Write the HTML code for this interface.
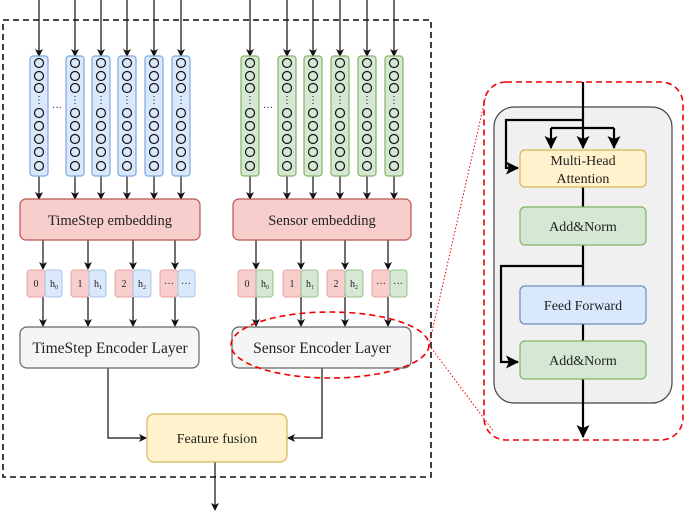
<!DOCTYPE html>
<html><head><meta charset="utf-8"><style>body{margin:0;background:#fff}svg{display:block}text{font-family:"Liberation Serif",serif;fill:#222}</style></head><body>
<svg width="685" height="513" viewBox="0 0 685 513" xmlns="http://www.w3.org/2000/svg">
<defs>
<marker id="a" markerWidth="8" markerHeight="8" refX="7" refY="4" orient="auto" markerUnits="userSpaceOnUse"><path d="M0,0 L8,4 L0,8 L2,4 Z" fill="#111"/></marker>
<marker id="b" markerWidth="13" markerHeight="13" refX="12" refY="6.5" orient="auto" markerUnits="userSpaceOnUse"><path d="M0,0 L13,6.5 L0,13 L3,6.5 Z" fill="#000"/></marker>
<g id="colc" fill="none" stroke="#111" stroke-width="1.2">
<circle cx="0" cy="63" r="4.5"/><circle cx="0" cy="76" r="4.5"/><circle cx="0" cy="88" r="4.5"/>
<circle cx="0" cy="113" r="4.5"/><circle cx="0" cy="126" r="4.5"/><circle cx="0" cy="139" r="4.5"/><circle cx="0" cy="152" r="4.5"/><circle cx="0" cy="166" r="4.5"/>
<path d="M0,96 V106" stroke-dasharray="1 2.5" stroke-width="1"/>
</g>
</defs>
<rect x="3" y="20" width="428" height="457" fill="none" stroke="#111" stroke-width="1.6" stroke-dasharray="6 4"/>
<g stroke="#111" stroke-width="1.2" marker-end="url(#a)">
<path d="M39,0V56"/><path d="M75,0V56"/><path d="M101,0V56"/><path d="M127,0V56"/><path d="M154,0V56"/><path d="M181,0V56"/>
<path d="M250,0V56"/><path d="M287,0V56"/><path d="M313,0V56"/><path d="M340,0V56"/><path d="M367,0V56"/><path d="M394,0V56"/>
<path d="M39,176V199"/><path d="M75,176V199"/><path d="M101,176V199"/><path d="M127,176V199"/><path d="M154,176V199"/><path d="M181,176V199"/>
<path d="M250,176V199"/><path d="M287,176V199"/><path d="M313,176V199"/><path d="M340,176V199"/><path d="M367,176V199"/><path d="M394,176V199"/>
<path d="M43,240V269"/><path d="M88,240V269"/><path d="M133,240V269"/><path d="M175,240V269"/>
<path d="M256,240V269"/><path d="M301,240V269"/><path d="M345,240V269"/><path d="M388,240V269"/>
<path d="M43,297V326"/><path d="M88,297V326"/><path d="M133,297V326"/><path d="M175,297V326"/>
<path d="M256,297V326"/><path d="M301,297V326"/><path d="M345,297V326"/><path d="M388,297V326"/>
<path d="M108,368V438H146" fill="none"/><path d="M322,368V438H288" fill="none"/>
<path d="M215,462V510"/>
</g>
<g fill="#dae8fc" stroke="#7ea6e0" stroke-width="1.2">
<rect x="30" y="56" width="18" height="120" rx="3"/><rect x="66" y="56" width="18" height="120" rx="3"/><rect x="92" y="56" width="18" height="120" rx="3"/><rect x="118" y="56" width="18" height="120" rx="3"/><rect x="145" y="56" width="18" height="120" rx="3"/><rect x="172" y="56" width="18" height="120" rx="3"/>
</g>
<g fill="#d5e8d4" stroke="#82b366" stroke-width="1.2">
<rect x="241" y="56" width="18" height="120" rx="3"/><rect x="278" y="56" width="18" height="120" rx="3"/><rect x="304" y="56" width="18" height="120" rx="3"/><rect x="331" y="56" width="18" height="120" rx="3"/><rect x="358" y="56" width="18" height="120" rx="3"/><rect x="385" y="56" width="18" height="120" rx="3"/>
</g>
<use href="#colc" x="39"/><use href="#colc" x="75"/><use href="#colc" x="101"/><use href="#colc" x="127"/><use href="#colc" x="154"/><use href="#colc" x="181"/>
<use href="#colc" x="250"/><use href="#colc" x="287"/><use href="#colc" x="313"/><use href="#colc" x="340"/><use href="#colc" x="367"/><use href="#colc" x="394"/>
<text x="57" y="111" font-size="10" text-anchor="middle">···</text>
<text x="268" y="111" font-size="10" text-anchor="middle">···</text>
<rect x="20" y="199" width="180" height="41" rx="6" fill="#f8cecc" stroke="#b85450" stroke-width="1.2"/>
<text x="110" y="225" font-size="14.5" text-anchor="middle">TimeStep embedding</text>
<rect x="233" y="199" width="178" height="41" rx="6" fill="#f8cecc" stroke="#b85450" stroke-width="1.2"/>
<text x="322" y="225" font-size="14.5" text-anchor="middle">Sensor embedding</text>
<g stroke-width="1">
<g stroke="#e8a0a0" fill="#f8cecc"><rect x="27" y="270" width="18" height="27" rx="3"/><rect x="71" y="270" width="18" height="27" rx="3"/><rect x="115" y="270" width="18" height="27" rx="3"/><rect x="160" y="270" width="18" height="27" rx="3"/>
<rect x="238" y="270" width="18" height="27" rx="3"/><rect x="283" y="270" width="18" height="27" rx="3"/><rect x="327" y="270" width="18" height="27" rx="3"/><rect x="372" y="270" width="18" height="27" rx="3"/></g>
<g stroke="#a9c4eb" fill="#dae8fc"><rect x="45" y="270" width="17" height="27" rx="3"/><rect x="89" y="270" width="17" height="27" rx="3"/><rect x="133" y="270" width="18" height="27" rx="3"/><rect x="178" y="270" width="17" height="27" rx="3"/></g>
<g stroke="#97c086" fill="#d5e8d4"><rect x="256" y="270" width="17" height="27" rx="3"/><rect x="301" y="270" width="17" height="27" rx="3"/><rect x="345" y="270" width="18" height="27" rx="3"/><rect x="390" y="270" width="17" height="27" rx="3"/></g>
</g>
<g font-size="10" text-anchor="middle">
<text x="36" y="287">0</text><text x="80" y="287">1</text><text x="124" y="287">2</text><text x="169" y="287">···</text>
<text x="54" y="287">h<tspan font-size="6" dy="2">0</tspan></text><text x="98" y="287">h<tspan font-size="6" dy="2">1</tspan></text><text x="142" y="287">h<tspan font-size="6" dy="2">2</tspan></text><text x="186" y="287">···</text>
<text x="247" y="287">0</text><text x="292" y="287">1</text><text x="336" y="287">2</text><text x="381" y="287">···</text>
<text x="265" y="287">h<tspan font-size="6" dy="2">0</tspan></text><text x="310" y="287">h<tspan font-size="6" dy="2">1</tspan></text><text x="354" y="287">h<tspan font-size="6" dy="2">2</tspan></text><text x="398" y="287">···</text>
</g>
<rect x="20" y="327" width="179" height="41" rx="7" fill="#f5f5f5" stroke="#666" stroke-width="1.2"/>
<text x="110" y="353" font-size="15.5" text-anchor="middle">TimeStep Encoder Layer</text>
<rect x="232" y="327" width="179" height="41" rx="7" fill="#f5f5f5" stroke="#666" stroke-width="1.2"/>
<text x="322" y="353" font-size="15.5" text-anchor="middle">Sensor Encoder Layer</text>
<ellipse cx="330" cy="345" rx="99" ry="33" fill="none" stroke="#e00" stroke-width="1.6" stroke-dasharray="6 4"/>
<rect x="147" y="414" width="140" height="48" rx="7" fill="#fff2cc" stroke="#d6b656" stroke-width="1.2"/>
<text x="217" y="443" font-size="14" text-anchor="middle">Feature fusion</text>
<path d="M429,345 L486,95 M429,345 L494,432" stroke="#e00" stroke-width="1" stroke-dasharray="1.5 2" fill="none"/>
<rect x="484" y="82" width="199" height="358" rx="22" fill="none" stroke="#e00" stroke-width="1.6" stroke-dasharray="6 4"/>
<rect x="494" y="107" width="178" height="296" rx="20" fill="#f0f0f0" stroke="#444" stroke-width="1.2"/>
<g stroke="#000" stroke-width="2.2" fill="none">
<path d="M583,82V148" marker-end="url(#b)"/>
<path d="M583,120H506V168H518" marker-end="url(#b)"/>
<path d="M551,128H614"/><path d="M551,128V148" marker-end="url(#b)"/><path d="M614,128V148" marker-end="url(#b)"/>
<path d="M583,187V207M583,245V286M583,324V341"/>
<path d="M583,266H501V362H518" marker-end="url(#b)"/>
<path d="M583,379V437" marker-end="url(#b)"/>
</g>
<rect x="520" y="150" width="126" height="37" rx="5" fill="#fff2cc" stroke="#d6b656" stroke-width="1.2"/>
<text x="583" y="165" font-size="14" text-anchor="middle">Multi-Head</text><text x="583" y="183" font-size="14" text-anchor="middle">Attention</text>
<rect x="520" y="207" width="126" height="38" rx="5" fill="#d5e8d4" stroke="#82b366" stroke-width="1.2"/>
<text x="583" y="231" font-size="14" text-anchor="middle">Add&amp;Norm</text>
<rect x="520" y="286" width="126" height="38" rx="5" fill="#dae8fc" stroke="#6c8ebf" stroke-width="1.2"/>
<text x="583" y="310" font-size="14" text-anchor="middle">Feed Forward</text>
<rect x="520" y="341" width="126" height="38" rx="5" fill="#d5e8d4" stroke="#82b366" stroke-width="1.2"/>
<text x="583" y="365" font-size="14" text-anchor="middle">Add&amp;Norm</text>
</svg>
</body></html>
